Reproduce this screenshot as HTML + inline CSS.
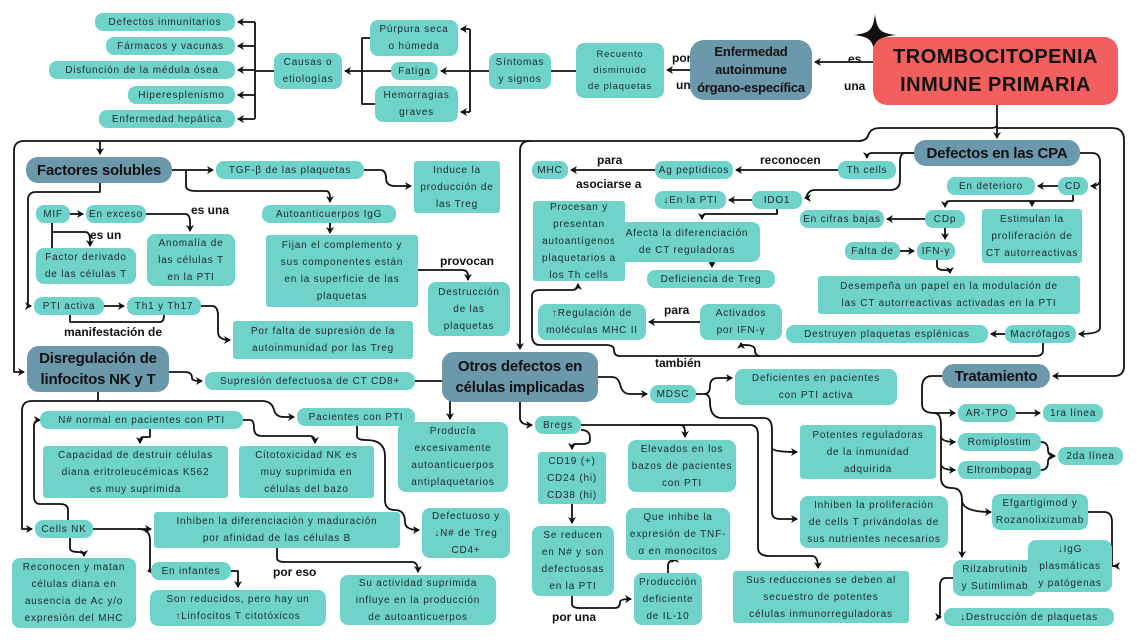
<!DOCTYPE html>
<html><head><meta charset="utf-8"><style>
*{margin:0;padding:0;box-sizing:border-box}
body{width:1137px;height:640px;background:#fff;position:relative;overflow:hidden;font-family:"Liberation Sans",sans-serif}
.b{position:absolute;background:#6fd3c9;border-radius:8px;display:flex;align-items:center;justify-content:center;text-align:center;font-size:10px;letter-spacing:0.8px;line-height:17px;color:#1c2b2b;white-space:nowrap}
.h{position:absolute;background:#6b98ab;border-radius:12px;display:flex;align-items:center;justify-content:center;text-align:center;font-weight:bold;font-size:15px;letter-spacing:-0.2px;line-height:21px;color:#111;white-space:nowrap}
.t{position:absolute;font-weight:bold;font-size:12px;color:#111;white-space:nowrap}
svg{position:absolute;left:0;top:0}
</style></head><body>
<svg width="1137" height="640" viewBox="0 0 1137 640">
<defs><marker id="a" markerWidth="8" markerHeight="8" refX="6" refY="4" orient="auto" markerUnits="userSpaceOnUse"><path d="M0,0 L7,4 L0,8 L2,4z" fill="#111"/></marker></defs>
<path d="M875,14 C877,30 880,33 896,35 C880,37 877,40 875,56 C873,40 870,37 854,35 C870,33 873,30 875,14z" fill="#111"/>
<g fill="none" stroke="#111" stroke-width="1.8" stroke-linejoin="round">
<path d="M873,62 H815" marker-end="url(#a)"/>
<path d="M690,70 H667" marker-end="url(#a)"/>
<path d="M576,71 H551"/>
<path d="M489,71 H470 M470,29 V112 M470,29 H461" marker-end="url(#a)"/>
<path d="M470,71 H441" marker-end="url(#a)"/>
<path d="M470,112 H461" marker-end="url(#a)"/>
<path d="M370,38 H362 V104 H375 M362,71 H391 M362,71 H345" marker-end="url(#a)"/>
<path d="M274,71 H255 M255,22 V119"/>
<path d="M255,22 H238" marker-end="url(#a)"/><path d="M255,46 H238" marker-end="url(#a)"/><path d="M255,70 H238" marker-end="url(#a)"/><path d="M255,95 H238" marker-end="url(#a)"/><path d="M255,119 H238" marker-end="url(#a)"/>
<path d="M997,105 V125 Q997,128 990,128 H880 Q870,128 868,136 Q866,141 858,141 H24 Q14,141 14,151 V372 H24" marker-end="url(#a)"/>
<path d="M997,125 V138" marker-end="url(#a)"/>
<path d="M997,128 H1112 Q1124,128 1124,140 V366 Q1124,376 1114,376 H1053" marker-end="url(#a)"/>
<path d="M100,141 V154" marker-end="url(#a)"/>
<path d="M530,141 Q520,141 520,151 V349" marker-end="url(#a)"/>
<path d="M172,170 H213" marker-end="url(#a)"/>
<path d="M186,170 V186 Q186,191 196,191 H326 Q330,191 330,198 V202" marker-end="url(#a)"/>
<path d="M364,170 H380 Q386,170 386,178 Q386,186 395,186 H411" marker-end="url(#a)"/>
<path d="M100,183 V192 H36 Q28,192 28,200 V306 H31" marker-end="url(#a)"/>
<path d="M70,214 H83" marker-end="url(#a)"/>
<path d="M52,223 V248 M52,232 H85 Q90,232 90,240 V246" marker-end="url(#a)"/>
<path d="M146,214 H185 Q190,214 190,222 V231" marker-end="url(#a)"/>
<path d="M330,223 V233" marker-end="url(#a)"/>
<path d="M418,270 H462 Q468,270 468,276 V280" marker-end="url(#a)"/>
<path d="M104,306 H124" marker-end="url(#a)"/>
<path d="M201,306 H212 Q218,306 218,316 V332 Q218,340 230,340" marker-end="url(#a)"/>
<path d="M70,315 V322 H160 Q164,322 164,315"/>
<path d="M169,372 H185 Q192,372 192,378 Q192,381 200,381 H202" marker-end="url(#a)"/>
<path d="M415,381 H440 Q450,381 450,390 V419" marker-end="url(#a)"/>
<path d="M98,392 V401 H32 Q22,401 22,411 V529 H32" marker-end="url(#a)"/>
<path d="M98,401 H262 Q272,401 274,410 Q276,417 284,417 H294" marker-end="url(#a)"/>
<path d="M68,520 V510 Q68,504 60,504 H40 Q34,504 34,496 V426 Q34,420 40,420" marker-end="url(#a)"/>
<path d="M150,429 V437 H143 Q140,437 140,443" marker-end="url(#a)"/>
<path d="M243,420 H250 Q254,420 254,428 Q254,436 262,436 H310 Q315,436 315,443" marker-end="url(#a)"/>
<path d="M357,426 V436 Q357,440 366,440 Q385,440 385,456 V500 Q385,510 395,510 Q405,510 405,522 Q405,530 419,530" marker-end="url(#a)"/>
<path d="M93,529 H151" marker-end="url(#a)"/>
<path d="M138,529 Q150,529 150,540 V566 Q150,571 148,571" marker-end="url(#a)"/>
<path d="M70,538 V548 Q70,552 78,552 Q84,552 84,556" marker-end="url(#a)"/>
<path d="M231,571 H238 V587" marker-end="url(#a)"/>
<path d="M277,548 V558 Q277,562 285,562 H412 Q418,562 418,572" marker-end="url(#a)"/>
<path d="M914,153 H872 Q867,153 867,158" marker-end="url(#a)"/>
<path d="M914,153 H905 Q900,153 900,162 V180 Q900,190 890,190 H815 Q808,190 806,198 H805" marker-end="url(#a)"/>
<path d="M838,170 H736" marker-end="url(#a)"/>
<path d="M655,170 H571" marker-end="url(#a)"/>
<path d="M752,200 H729" marker-end="url(#a)"/>
<path d="M777,209 V214 H706 Q702,214 702,219" marker-end="url(#a)"/>
<path d="M712,262 V267" marker-end="url(#a)"/>
<path d="M700,322 H649" marker-end="url(#a)"/>
<path d="M1043,343 V350 Q1043,356 1036,356 H620 Q614,356 614,350 Q614,345 606,345 H540 Q532,345 532,335 V296 Q532,290 540,290 H572 Q578,290 578,284" marker-end="url(#a)"/>
<path d="M760,356 Q755,356 755,350 Q755,345 745,345 Q741,345 741,343" marker-end="url(#a)"/>
<path d="M1080,153 H1092 Q1100,153 1100,162 V180 Q1100,186 1091,186" marker-end="url(#a)"/>
<path d="M1100,180 V328 Q1100,334 1079,334" marker-end="url(#a)"/>
<path d="M1058,186 H1038" marker-end="url(#a)"/>
<path d="M1073,195 V201 H950 Q945,201 945,207" marker-end="url(#a)"/>
<path d="M1032,201 V206" marker-end="url(#a)"/>
<path d="M925,219 H887" marker-end="url(#a)"/>
<path d="M945,228 V239" marker-end="url(#a)"/>
<path d="M900,251 H914" marker-end="url(#a)"/>
<path d="M937,260 V266 Q937,270 944,270 Q950,270 950,273" marker-end="url(#a)"/>
<path d="M1005,334 H991" marker-end="url(#a)"/>
<path d="M598,377 H612 Q618,377 620,384 Q622,394 630,394 H647" marker-end="url(#a)"/>
<path d="M520,402 V418 Q520,425 532,425" marker-end="url(#a)"/>
<path d="M696,394 H704 Q710,394 710,386 Q710,378 718,378 H732" marker-end="url(#a)"/>
<path d="M704,394 Q710,394 710,402 Q710,418 722,418 H764 Q772,418 772,430 V448 Q772,452 797,452" marker-end="url(#a)"/>
<path d="M772,448 V512 Q772,519 780,519 H797" marker-end="url(#a)"/>
<path d="M581,425 H680 Q685,425 685,432 V437" marker-end="url(#a)"/>
<path d="M640,425 H750 Q758,425 758,435 V548 Q758,556 770,556 H812 Q818,556 818,568" marker-end="url(#a)"/>
<path d="M581,430 Q590,430 590,438 V440 Q590,444 582,444 H575 Q572,444 572,449" marker-end="url(#a)"/>
<path d="M572,504 V523" marker-end="url(#a)"/>
<path d="M572,596 V604 Q572,608 580,608 H615 Q620,608 620,602 Q620,599 631,599" marker-end="url(#a)"/>
<path d="M668,573 V566 Q668,560 675,560 V557" marker-end="url(#a)"/>
<path d="M942,376 H932 Q922,376 922,388 V404 Q922,413 934,413 H955" marker-end="url(#a)"/>
<path d="M934,413 Q941,413 941,425 V436 Q941,442 955,442" marker-end="url(#a)"/>
<path d="M941,436 V464 Q941,470 955,470" marker-end="url(#a)"/>
<path d="M941,464 V478 Q941,488 952,488 Q962,488 962,500 Q962,512 991,512" marker-end="url(#a)"/>
<path d="M962,500 V557" marker-end="url(#a)"/>
<path d="M1016,413 H1040" marker-end="url(#a)"/>
<path d="M1041,442 Q1048,442 1048,450 Q1048,456 1055,456" marker-end="url(#a)"/>
<path d="M1041,470 Q1048,470 1048,462 Q1048,456 1055,456"/>
<path d="M1086,512 H1104 Q1112,512 1112,522 V566 H1114" />
<path d="M1118,566 H1114" marker-end="url(#a)"/>
<path d="M955,578 H946 Q940,578 940,586 V617 H941" marker-end="url(#a)"/>
</g>
</svg>

<div class="b" style="left:95px;top:13px;width:140px;height:18px">Defectos inmunitarios</div>
<div class="b" style="left:106px;top:37px;width:129px;height:18px">Fármacos y vacunas</div>
<div class="b" style="left:49px;top:61px;width:186px;height:18px">Disfunción de la médula ósea</div>
<div class="b" style="left:128px;top:86px;width:107px;height:18px">Hiperesplenismo</div>
<div class="b" style="left:99px;top:110px;width:136px;height:18px">Enfermedad hepática</div>
<div class="b" style="left:274px;top:53px;width:68px;height:36px">Causas o<br>etiologías</div>
<div class="b" style="left:370px;top:20px;width:88px;height:36px">Púrpura seca<br>o húmeda</div>
<div class="b" style="left:391px;top:62px;width:47px;height:18px">Fatiga</div>
<div class="b" style="left:375px;top:86px;width:83px;height:36px">Hemorragias<br>graves</div>
<div class="b" style="left:489px;top:53px;width:62px;height:36px">Síntomas<br>y signos</div>
<div class="b" style="left:576px;top:43px;width:88px;height:55px;font-size:9.5px;line-height:16px">Recuento<br>disminuido<br>de plaquetas</div>
<div class="t" style="left:672px;top:51px">por</div>
<div class="t" style="left:676px;top:78px">un</div>
<div class="h" style="left:690px;top:40px;width:122px;height:60px;font-size:13px;line-height:18px;border-radius:14px">Enfermedad<br>autoinmune<br>órgano-específica</div>
<div class="t" style="left:848px;top:52px">es</div>
<div class="t" style="left:844px;top:79px">una</div>
<div class="h" style="left:873px;top:37px;width:245px;height:68px;background:#f25f5e;font-size:20px;line-height:28px;border-radius:14px;letter-spacing:0.5px">TROMBOCITOPENIA<br>INMUNE PRIMARIA</div>

<div class="h" style="left:26px;top:157px;width:146px;height:26px">Factores solubles</div>
<div class="b" style="left:216px;top:161px;width:148px;height:18px">TGF-β de las plaquetas</div>
<div class="b" style="left:414px;top:161px;width:86px;height:52px;border-radius:3px">Induce la<br>producción de<br>las Treg</div>
<div class="b" style="left:36px;top:205px;width:34px;height:18px">MIF</div>
<div class="b" style="left:86px;top:205px;width:60px;height:18px">En exceso</div>
<div class="t" style="left:191px;top:203px">es una</div>
<div class="t" style="left:90px;top:228px">es un</div>
<div class="b" style="left:262px;top:205px;width:134px;height:18px">Autoanticuerpos IgG</div>
<div class="b" style="left:36px;top:248px;width:100px;height:36px">Factor derivado<br>de las células T</div>
<div class="b" style="left:147px;top:234px;width:88px;height:52px">Anomalía de<br>las células T<br>en la PTI</div>
<div class="b" style="left:266px;top:235px;width:152px;height:72px;border-radius:3px">Fijan el complemento y<br>sus componentes están<br>en la superficie de las<br>plaquetas</div>
<div class="t" style="left:440px;top:254px">provocan</div>
<div class="b" style="left:428px;top:282px;width:82px;height:54px">Destrucción<br>de las<br>plaquetas</div>
<div class="b" style="left:34px;top:297px;width:70px;height:18px">PTI activa</div>
<div class="b" style="left:127px;top:297px;width:74px;height:18px">Th1 y Th17</div>
<div class="t" style="left:64px;top:325px">manifestación de</div>
<div class="b" style="left:233px;top:321px;width:180px;height:38px;border-radius:3px">Por falta de supresión de la<br>autoinmunidad por las Treg</div>

<div class="h" style="left:27px;top:346px;width:142px;height:46px">Disregulación de<br>linfocitos NK y T</div>
<div class="b" style="left:205px;top:372px;width:210px;height:18px">Supresión defectuosa de CT CD8+</div>
<div class="b" style="left:40px;top:411px;width:203px;height:18px">N# normal en pacientes con PTI</div>
<div class="b" style="left:297px;top:408px;width:118px;height:18px">Pacientes con PTI</div>
<div class="b" style="left:398px;top:422px;width:110px;height:70px">Producía<br>excesivamente<br>autoanticuerpos<br>antiplaquetarios</div>
<div class="b" style="left:43px;top:446px;width:185px;height:52px;border-radius:3px">Capacidad de destruir células<br>diana eritroleucémicas K562<br>es muy suprimida</div>
<div class="b" style="left:239px;top:446px;width:135px;height:52px;border-radius:3px">Citotoxicidad NK es<br>muy suprimida en<br>células del bazo</div>
<div class="b" style="left:422px;top:508px;width:88px;height:50px">Defectuoso y<br>↓N# de Treg<br>CD4+</div>
<div class="b" style="left:35px;top:520px;width:58px;height:18px">Cells NK</div>
<div class="b" style="left:154px;top:512px;width:246px;height:36px;border-radius:3px">Inhiben la diferenciación y maduración<br>por afinidad de las células B</div>
<div class="b" style="left:12px;top:558px;width:124px;height:70px">Reconocen y matan<br>células diana en<br>ausencia de Ac y/o<br>expresión del MHC</div>
<div class="b" style="left:151px;top:562px;width:80px;height:18px">En infantes</div>
<div class="t" style="left:273px;top:565px">por eso</div>
<div class="b" style="left:150px;top:590px;width:176px;height:36px">Son reducidos, pero hay un<br>↑Linfocitos T citotóxicos</div>
<div class="b" style="left:340px;top:575px;width:156px;height:50px">Su actividad suprimida<br>influye en la producción<br>de autoanticuerpos</div>

<div class="b" style="left:532px;top:161px;width:36px;height:18px">MHC</div>
<div class="t" style="left:597px;top:153px">para</div>
<div class="t" style="left:760px;top:153px">reconocen</div>
<div class="t" style="left:576px;top:177px">asociarse a</div>
<div class="b" style="left:655px;top:161px;width:78px;height:18px">Ag peptidicos</div>
<div class="b" style="left:838px;top:161px;width:58px;height:18px">Th cells</div>
<div class="b" style="left:655px;top:191px;width:71px;height:18px">↓En la PTI</div>
<div class="b" style="left:752px;top:191px;width:50px;height:18px">IDO1</div>
<div class="b" style="left:533px;top:201px;width:92px;height:80px;border-radius:3px">Procesan y<br>presentan<br>autoantígenos<br>plaquetarios a<br>los Th cells</div>
<div class="b" style="left:614px;top:222px;width:146px;height:40px">Afecta la diferenciación<br>de CT reguladoras</div>
<div class="b" style="left:647px;top:270px;width:128px;height:18px">Deficiencia de Treg</div>
<div class="b" style="left:538px;top:304px;width:108px;height:36px">↑Regulación de<br>moléculas MHC II</div>
<div class="t" style="left:664px;top:303px">para</div>
<div class="b" style="left:700px;top:304px;width:82px;height:36px">Activados<br>por IFN-γ</div>
<div class="t" style="left:655px;top:356px">también</div>

<div class="h" style="left:442px;top:352px;width:156px;height:50px">Otros defectos en<br>células implicadas</div>
<div class="b" style="left:650px;top:385px;width:46px;height:18px">MDSC</div>
<div class="b" style="left:735px;top:369px;width:162px;height:36px">Deficientes en pacientes<br>con PTI activa</div>
<div class="b" style="left:535px;top:416px;width:46px;height:18px">Bregs</div>
<div class="b" style="left:628px;top:440px;width:108px;height:52px">Elevados en los<br>bazos de pacientes<br>con PTI</div>
<div class="b" style="left:800px;top:425px;width:136px;height:54px;border-radius:3px">Potentes reguladoras<br>de la inmunidad<br>adquirida</div>
<div class="b" style="left:538px;top:452px;width:68px;height:52px;border-radius:3px">CD19 (+)<br>CD24 (hi)<br>CD38 (hi)</div>
<div class="b" style="left:626px;top:508px;width:104px;height:52px">Que inhibe la<br>expresión de TNF-<br>α en monocitos</div>
<div class="b" style="left:800px;top:496px;width:148px;height:52px">Inhiben la proliferación<br>de cells T privándolas de<br>sus nutrientes necesarios</div>
<div class="b" style="left:532px;top:526px;width:82px;height:70px">Se reducen<br>en N# y son<br>defectuosas<br>en la PTI</div>
<div class="b" style="left:634px;top:573px;width:68px;height:52px">Producción<br>deficiente<br>de IL-10</div>
<div class="b" style="left:733px;top:571px;width:176px;height:52px;border-radius:3px">Sus reducciones se deben al<br>secuestro de potentes<br>células inmunorreguladoras</div>
<div class="t" style="left:552px;top:610px">por una</div>

<div class="h" style="left:914px;top:140px;width:166px;height:26px">Defectos en las CPA</div>
<div class="b" style="left:947px;top:177px;width:88px;height:18px">En deterioro</div>
<div class="b" style="left:1058px;top:177px;width:30px;height:18px">CD</div>
<div class="b" style="left:925px;top:210px;width:40px;height:18px">CDp</div>
<div class="b" style="left:800px;top:210px;width:84px;height:18px">En cifras bajas</div>
<div class="b" style="left:982px;top:209px;width:100px;height:54px;border-radius:3px">Estimulan la<br>proliferación de<br>CT autorreactivas</div>
<div class="b" style="left:845px;top:242px;width:55px;height:18px">Falta de</div>
<div class="b" style="left:917px;top:242px;width:38px;height:18px">IFN-γ</div>
<div class="b" style="left:818px;top:276px;width:262px;height:38px;border-radius:3px">Desempeña un papel en la modulación de<br>las CT autorreactivas activadas en la PTI</div>
<div class="b" style="left:786px;top:325px;width:202px;height:18px">Destruyen plaquetas esplénicas</div>
<div class="b" style="left:1005px;top:325px;width:71px;height:18px">Macrófagos</div>

<div class="h" style="left:942px;top:364px;width:108px;height:24px">Tratamiento</div>
<div class="b" style="left:958px;top:404px;width:58px;height:18px">AR-TPO</div>
<div class="b" style="left:1043px;top:404px;width:60px;height:18px">1ra línea</div>
<div class="b" style="left:958px;top:433px;width:83px;height:18px">Romiplostim</div>
<div class="b" style="left:1058px;top:447px;width:65px;height:18px">2da línea</div>
<div class="b" style="left:958px;top:461px;width:83px;height:18px">Eltrombopag</div>
<div class="b" style="left:992px;top:494px;width:96px;height:36px">Efgartigimod y<br>Rozanolixizumab</div>
<div class="b" style="left:1028px;top:540px;width:84px;height:52px">↓IgG<br>plasmáticas<br>y patógenas</div>
<div class="b" style="left:953px;top:560px;width:84px;height:36px">Rilzabrutinib<br>y Sutimlimab</div>
<div class="b" style="left:944px;top:608px;width:170px;height:18px">↓Destrucción de plaquetas</div>
</body></html>
